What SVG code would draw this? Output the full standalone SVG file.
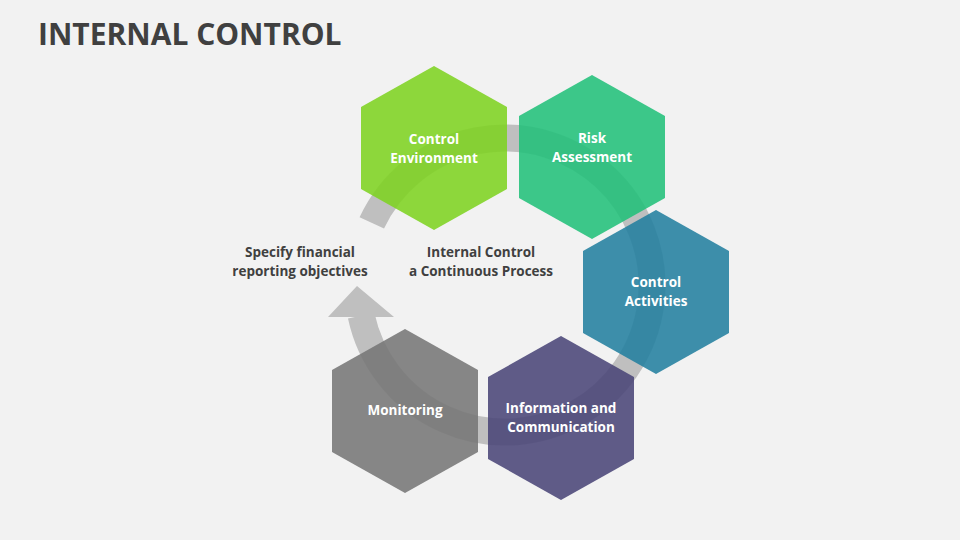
<svg xmlns="http://www.w3.org/2000/svg" width="960" height="540" viewBox="0 0 960 540">
<defs>
<style>
.hex{opacity:0.88}
.ht{font-family:"Open Sans","Liberation Sans",sans-serif;font-weight:bold;font-size:13.5px;fill:#fff;text-anchor:middle}
.lb{font-family:"Open Sans","Liberation Sans",sans-serif;font-weight:bold;font-size:13.5px;fill:#404040;text-anchor:middle}
</style>
<polygon id="hx" points="0,-82 73,-41 73,41 0,82 -73,41 -73,-41"/>
</defs>
<rect width="960" height="540" fill="#f2f2f2"/>
<text x="38" y="45" font-family="Open Sans, Liberation Sans, sans-serif" font-weight="bold" font-size="30" fill="#404040">INTERNAL CONTROL</text>
<g id="connectors">
<path d="M371.8,222.9 A147,147 0 1 1 361.2,315.6" fill="none" stroke="#bfbfbf" stroke-width="27"/>
<polygon points="357,286 394,317 328,317" fill="#bfbfbf"/>
</g>
<g id="n1"><use href="#hx" x="434" y="148" fill="#7ed321" class="hex"/><text class="ht" x="434" y="144">Control</text><text class="ht" x="434" y="163">Environment</text></g>
<g id="n2"><use href="#hx" x="592" y="157" fill="#22c07a" class="hex"/><text class="ht" x="592" y="143">Risk</text><text class="ht" x="592" y="162">Assessment</text></g>
<g id="n3"><use href="#hx" x="656" y="292" fill="#237f9f" class="hex"/><text class="ht" x="656" y="287">Control</text><text class="ht" x="656" y="306">Activities</text></g>
<g id="n4"><use href="#hx" x="561" y="418" fill="#4a4577" class="hex"/><text class="ht" x="561" y="413">Information and</text><text class="ht" x="561" y="432">Communication</text></g>
<g id="n5"><use href="#hx" x="405" y="411" fill="#767676" class="hex"/><text class="ht" x="405" y="415">Monitoring</text></g>
<g id="labels">
<text class="lb" x="300" y="257">Specify financial</text><text class="lb" x="300" y="276">reporting objectives</text>
<text class="lb" x="481" y="257">Internal Control</text><text class="lb" x="481" y="276">a Continuous Process</text>
</g>
</svg>
